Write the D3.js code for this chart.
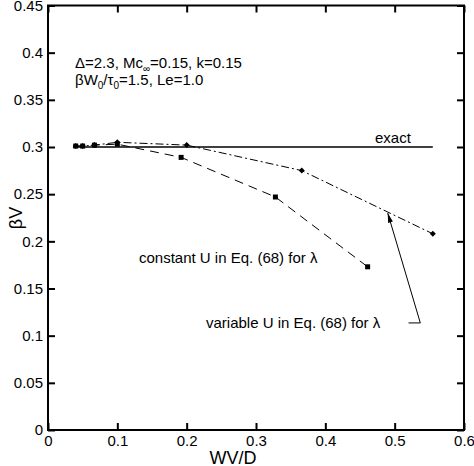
<!DOCTYPE html><html><head><script src="https://cdn.jsdelivr.net/npm/d3@7"></script>
<style>body{margin:0;background:#fff}text{font-family:"Liberation Sans",Arial,sans-serif}</style></head><body><svg id="c" width="474" height="466"></svg>
<script>
const constX=[0.04,0.05,0.067,0.1,0.192,0.328,0.461];
const constY=[0.301,0.301,0.302,0.303,0.289,0.247,0.173];
const varX=[0.04,0.05,0.067,0.1,0.2,0.366,0.555];
const varY=[0.301,0.301,0.302,0.305,0.302,0.275,0.208];
const exactX=[0.036,0.555], exactY=[0.3,0.3];
const xTicks=[0,0.1,0.2,0.3,0.4,0.5,0.6], yTicks=[0,0.05,0.1,0.15,0.2,0.25,0.3,0.35,0.4,0.45];
const svg=d3.select("#c");
const x=d3.scaleLinear([0,0.6],[48,464]), y=d3.scaleLinear([0,0.45],[430,5.5]);
const fmt=d=>d===0?"0":String(d);
const g=svg.append("g");
g.append("rect").attr("x",48).attr("y",5.5).attr("width",416).attr("height",424.5).attr("fill","none").attr("stroke","#000").attr("stroke-width",2);
const tl=7;
g.append("g").attr("transform","translate(0,430)").call(d3.axisBottom(x).tickValues(xTicks).tickSize(-tl).tickFormat(fmt).tickPadding(5)).call(a=>{a.select(".domain").remove();a.selectAll("line").attr("stroke-width",2);});
g.append("g").attr("transform","translate(0,5.5)").call(d3.axisTop(x).tickValues(xTicks).tickSize(-tl).tickFormat("")).call(a=>{a.select(".domain").remove();a.selectAll("line").attr("stroke-width",2);});
g.append("g").attr("transform","translate(48,0)").call(d3.axisLeft(y).tickValues(yTicks).tickSize(-tl).tickFormat(fmt).tickPadding(5)).call(a=>{a.select(".domain").remove();a.selectAll("line").attr("stroke-width",2);});
g.append("g").attr("transform","translate(464,0)").call(d3.axisRight(y).tickValues(yTicks).tickSize(-tl).tickFormat("")).call(a=>{a.select(".domain").remove();a.selectAll("line").attr("stroke-width",2);});
svg.selectAll(".tick text").attr("font-size",15).attr("font-family","Liberation Sans,Arial,sans-serif").attr("fill","#000");
const line=d3.line();
const pts=(X,Y)=>X.map((v,i)=>[x(v),y(Y[i])]);
svg.append("path").attr("d",line(pts(exactX,exactY))).attr("stroke","#000").attr("stroke-width",1.3).attr("fill","none");
svg.append("path").attr("d",line(pts(constX,constY))).attr("stroke","#000").attr("stroke-width",1).attr("stroke-dasharray","9,6").attr("fill","none");
svg.append("path").attr("d",line(pts(varX,varY))).attr("stroke","#000").attr("stroke-width",1).attr("stroke-dasharray","8,3,2,3").attr("fill","none");
svg.selectAll(".pc").data(pts(constX,constY)).join("rect").attr("x",d=>d[0]-2.5).attr("y",d=>d[1]-2.5).attr("width",5).attr("height",5);
svg.selectAll(".pv").data(pts(varX,varY)).join("path").attr("d",d=>`M${d[0]-3},${d[1]}L${d[0]},${d[1]-3}L${d[0]+3},${d[1]}L${d[0]},${d[1]+3}Z`);
// arrow
const arrX=[0.49,0.537,0.52], arrY=[0.230,0.1135,0.1135];
const ap=pts(arrX,arrY);
svg.append("path").attr("d",line(ap)).attr("stroke","#000").attr("fill","none");
const ang=Math.atan2(ap[0][1]-ap[1][1],ap[0][0]-ap[1][0]);
const t=ap[0],L=10,w=0.25;
svg.append("path").attr("d",`M${t[0]},${t[1]}L${t[0]-L*Math.cos(ang-w)},${t[1]-L*Math.sin(ang-w)}L${t[0]-L*Math.cos(ang+w)},${t[1]-L*Math.sin(ang+w)}Z`);
const T=(s,xx,yy,fs=15)=>svg.append("text").attr("x",xx).attr("y",yy).attr("font-size",fs).html(s);
T("exact",375,143);
T("constant U in Eq. (68) for λ",139,263);
T("variable U in Eq. (68) for λ",206,328);
T('Δ=2.3, Mc<tspan font-size="10" dy="4">∞</tspan><tspan dy="-4">=0.15, k=0.15</tspan>',75,68);
T('βW<tspan font-size="10" dy="4">0</tspan><tspan dy="-4">/τ</tspan><tspan font-size="10" dy="4">0</tspan><tspan dy="-4">=1.5, Le=1.0</tspan>',75,85);
T("WV/D",233,464,18).attr("text-anchor","middle");
svg.append("text").attr("transform","translate(22,218) rotate(-90)").attr("text-anchor","middle").attr("font-size",18).text("βV");
</script></body></html>
